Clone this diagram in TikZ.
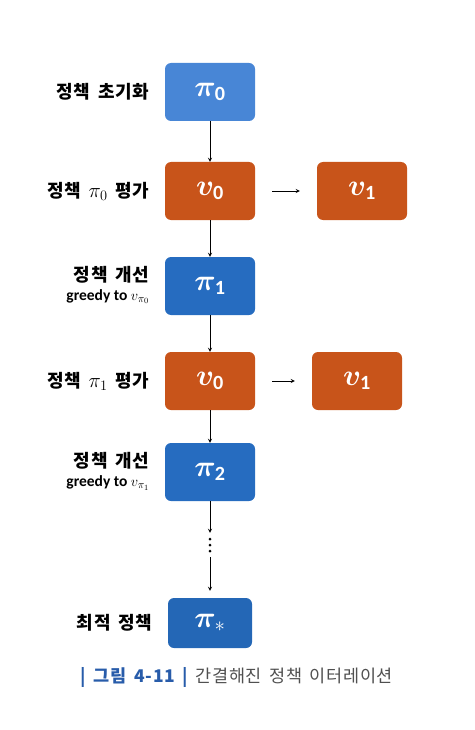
\documentclass[tikz,border=0pt]{standalone}
\usepackage{fontspec}
\usepackage{bm}
\usepackage{tikz}
\usetikzlibrary{positioning,arrows}
\setmainfont{Carlito}
\newfontfamily\kr{Noto Sans CJK KR}[LetterSpace=4, WordSpace=1.6]
\definecolor{firstblue}{RGB}{72,134,214}
\definecolor{polblue}{RGB}{38,108,192}
\definecolor{valorange}{RGB}{200,84,26}
\definecolor{capblue}{RGB}{40,92,170}
\definecolor{capgray}{RGB}{80,80,80}
\tikzstyle{policy} = [rectangle, rounded corners=6pt, minimum width=90pt, minimum height=58pt, text centered, fill=polblue, text=white, font=\fontsize{24}{28}\selectfont]
\tikzstyle{value} = [policy, fill=valorange]
\tikzstyle{lefttext} = [align=right, font=\kr\bfseries\fontsize{18}{22}\selectfont]
\tikzstyle{arrow} = [->,>=stealth, line width=0.8pt]
\newcommand{\greedyfont}{\bfseries\fontsize{15.5}{17}\selectfont}
\newcommand{\pol}[1]{\scalebox{1.2}{$\bm{\pi}_{\mathbf{#1}}$}}
\newcommand{\val}[1]{\scalebox{1.2}{$\bm{v}_{\mathbf{#1}}$}}
\newcommand{\lblmath}[1]{{\normalfont\fontsize{21}{22}\selectfont$#1$}}
\begin{document}
\begin{tikzpicture}[node distance=95pt]

	\useasboundingbox (0pt,0pt) rectangle (474pt,-730pt);

	\node (pi0) [policy, fill=firstblue] at (210pt,-92pt) {\pol{0}};

	\node (vzeroA) [value, below of=pi0, yshift=-4pt] {\val{0}};
	\node (voneA) [value, right of=vzeroA, xshift=57pt] {\val{1}};

	\node (pi1) [policy, below of=vzeroA] {\pol{1}};

	\node (vzeroB) [value, below of=pi1] {\val{0}};
	\node (voneB) [value, right of=vzeroB, xshift=52pt] {\val{1}};

	\node (pi2) [policy, below of=vzeroB, yshift=4pt] {\pol{2}};

	\node (dots) [below of=pi2, yshift=22pt, minimum width=6pt, minimum height=24pt, inner sep=0pt] {};
	\foreach \dy in {-6pt,0pt,6pt}
		\fill (dots.center) ++(0,\dy) circle (1.5pt);

	\node (pistar) [policy, minimum width=84pt, minimum height=50pt, below of=dots, yshift=17pt, fill=polblue!95!black] {\scalebox{1.2}{$\bm{\pi}_{*}$}};

	% labels on the left
	\node (lblInit) [lefttext, left=12pt of pi0] {정책 초기화};
	\node (lblEvalA) [lefttext, left=12pt of vzeroA] {정책 \lblmath{\pi_0} 평가};
	\node (lblImpA) [lefttext, left=12pt of pi1, yshift=1pt] {정책 개선\\[-3pt]{\normalfont\greedyfont greedy to $v_{\pi_0}$}};
	\node (lblEvalB) [lefttext, left=12pt of vzeroB] {정책 \lblmath{\pi_1} 평가};
	\node (lblImpB) [lefttext, left=12pt of pi2, yshift=1pt] {정책 개선\\[-3pt]{\normalfont\greedyfont greedy to $v_{\pi_1}$}};
	\node (lblOpt) [lefttext, left=12pt of pistar] {최적 정책};

	% caption
	\node (caption) at (237pt,-677pt) {\kr\fontsize{17.5}{20}\selectfont{\color{capblue}\bfseries | 그림 4-11 |} {\color{capgray}간결해진 정책 이터레이션}};

	\draw [arrow] (pi0) -- (vzeroA);
	\draw [arrow] (vzeroA) -- (pi1);
	\draw [arrow] (pi1) -- (vzeroB);
	\draw [arrow] (vzeroB) -- (pi2);
	\draw [arrow] (pi2) -- (dots);
	\draw [arrow, shorten >=7pt] (dots) -- (pistar);

	\draw [arrow, shorten <=17pt, shorten >=17pt] (vzeroA) -- (voneA);
	\draw [arrow, shorten <=17pt, shorten >=17pt] (vzeroB) -- (voneB);

\end{tikzpicture}
\end{document}
